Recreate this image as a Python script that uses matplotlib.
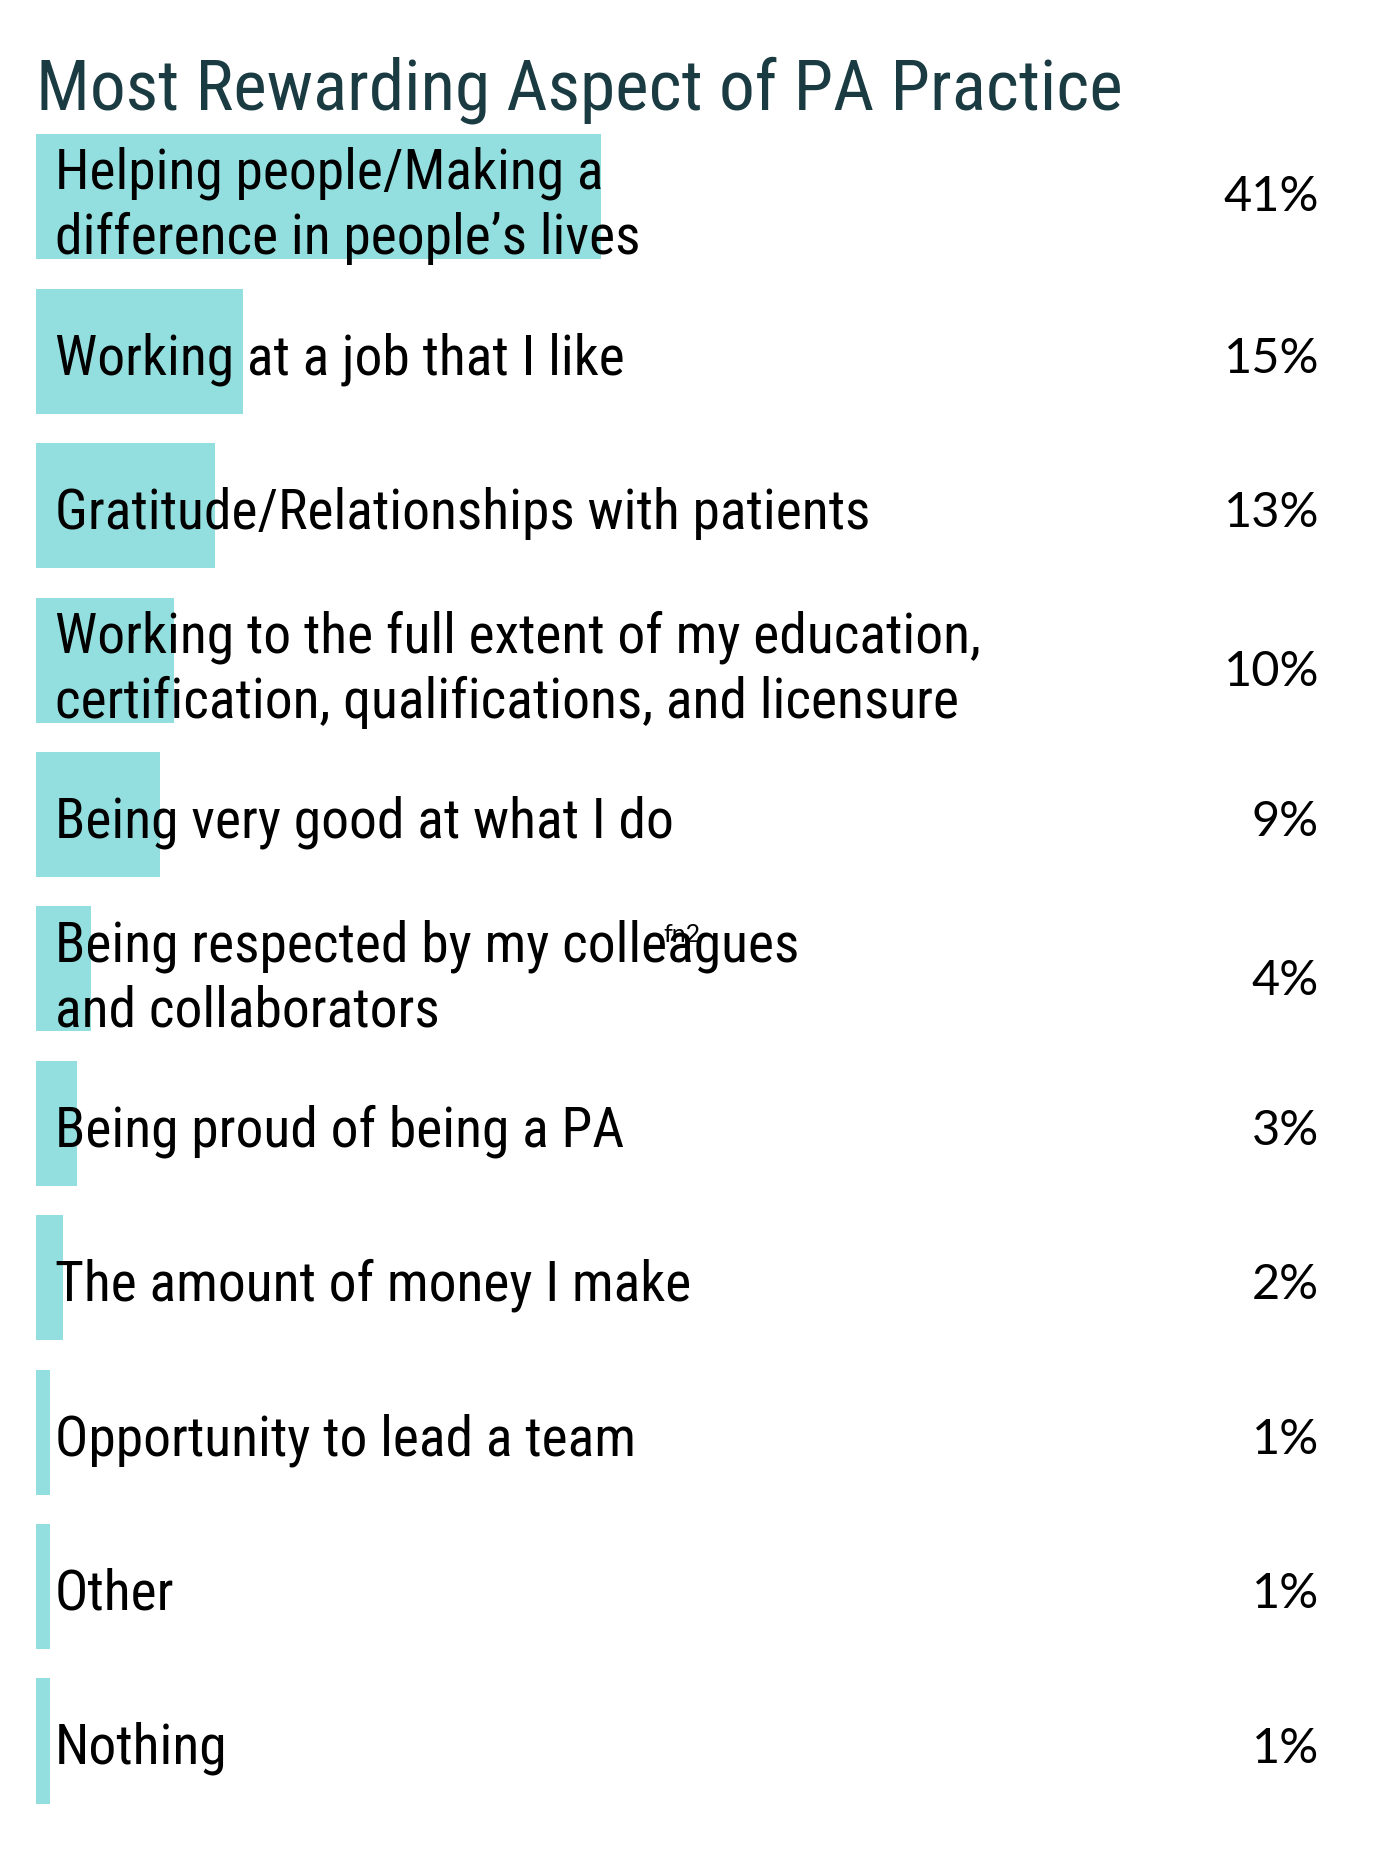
import matplotlib
matplotlib.use("Agg")
import matplotlib.pyplot as plt
from matplotlib import font_manager

# Data
labels = [
    "Helping people/Making a\ndifference in people\u2019s lives",
    "Working at a job that I like",
    "Gratitude/Relationships with patients",
    "Working to the full extent of my education,\ncertification, qualifications, and licensure",
    "Being very good at what I do",
    "Being respected by my colleagues\nand collaborators",
    "Being proud of being a PA",
    "The amount of money I make",
    "Opportunity to lead a team",
    "Other",
    "Nothing",
]
values = [41, 15, 13, 10, 9, 4, 3, 2, 1, 1, 1]
value_labels = ["41%", "15%", "13%", "10%", "9%", "4%", "3%", "2%", "1%", "1%", "1%"]

# pick a condensed face if one is installed
names = {f.name for f in font_manager.fontManager.ttflist}
cond = "Roboto"
for cand in ["Roboto Condensed", "Liberation Sans Narrow", "DejaVu Sans Condensed"]:
    if cand in names:
        cond = cand
        break
num_font = "Lato" if "Lato" in names else "DejaVu Sans"

bar_color = "#93dfe0"
title_color = "#1a3b42"

W, H = 1380, 1866
fig = plt.figure(figsize=(W / 100, H / 100), dpi=100)

left = 35.7 / W
bottom = 1 - 1818.2 / H
height = (1818.2 - 119.7) / H
ax = fig.add_axes([left, bottom, 1 - left, height])

ypos = list(range(len(values)))
ax.barh(ypos, values, height=0.81, color=bar_color, linewidth=0)

for y, lab, vl in zip(ypos, labels, value_labels):
    two = "\n" in lab
    ax.text(1.4, y + (0.06 if two else 0.05), lab, fontsize=40, family=cond,
            color="black", ha="left", va="center", linespacing=1.28)
    off = 0.0 if y == 0 else (0.08 if two else 0.05)
    ax.text(93.0, y + off, vl, fontsize=35, family=num_font,
            color="black", ha="right", va="center")

# stray footnote marker sitting on the "colleagues" label
ax.text(45.5, 5 - 0.22, "fn2", fontsize=18, family=num_font, color="black",
        ha="left", va="center")

ax.set_xlim(0, (1 - left) * 100)
ax.set_ylim(len(values) - 0.5, -0.5)
ax.axis("off")

fig.text(36 / W, 1 - 109.4 / H, "Most Rewarding Aspect of PA Practice",
         fontsize=51.3, family=cond, color=title_color, ha="left", va="baseline")

fig.savefig("out.png", dpi=100, facecolor="white")
